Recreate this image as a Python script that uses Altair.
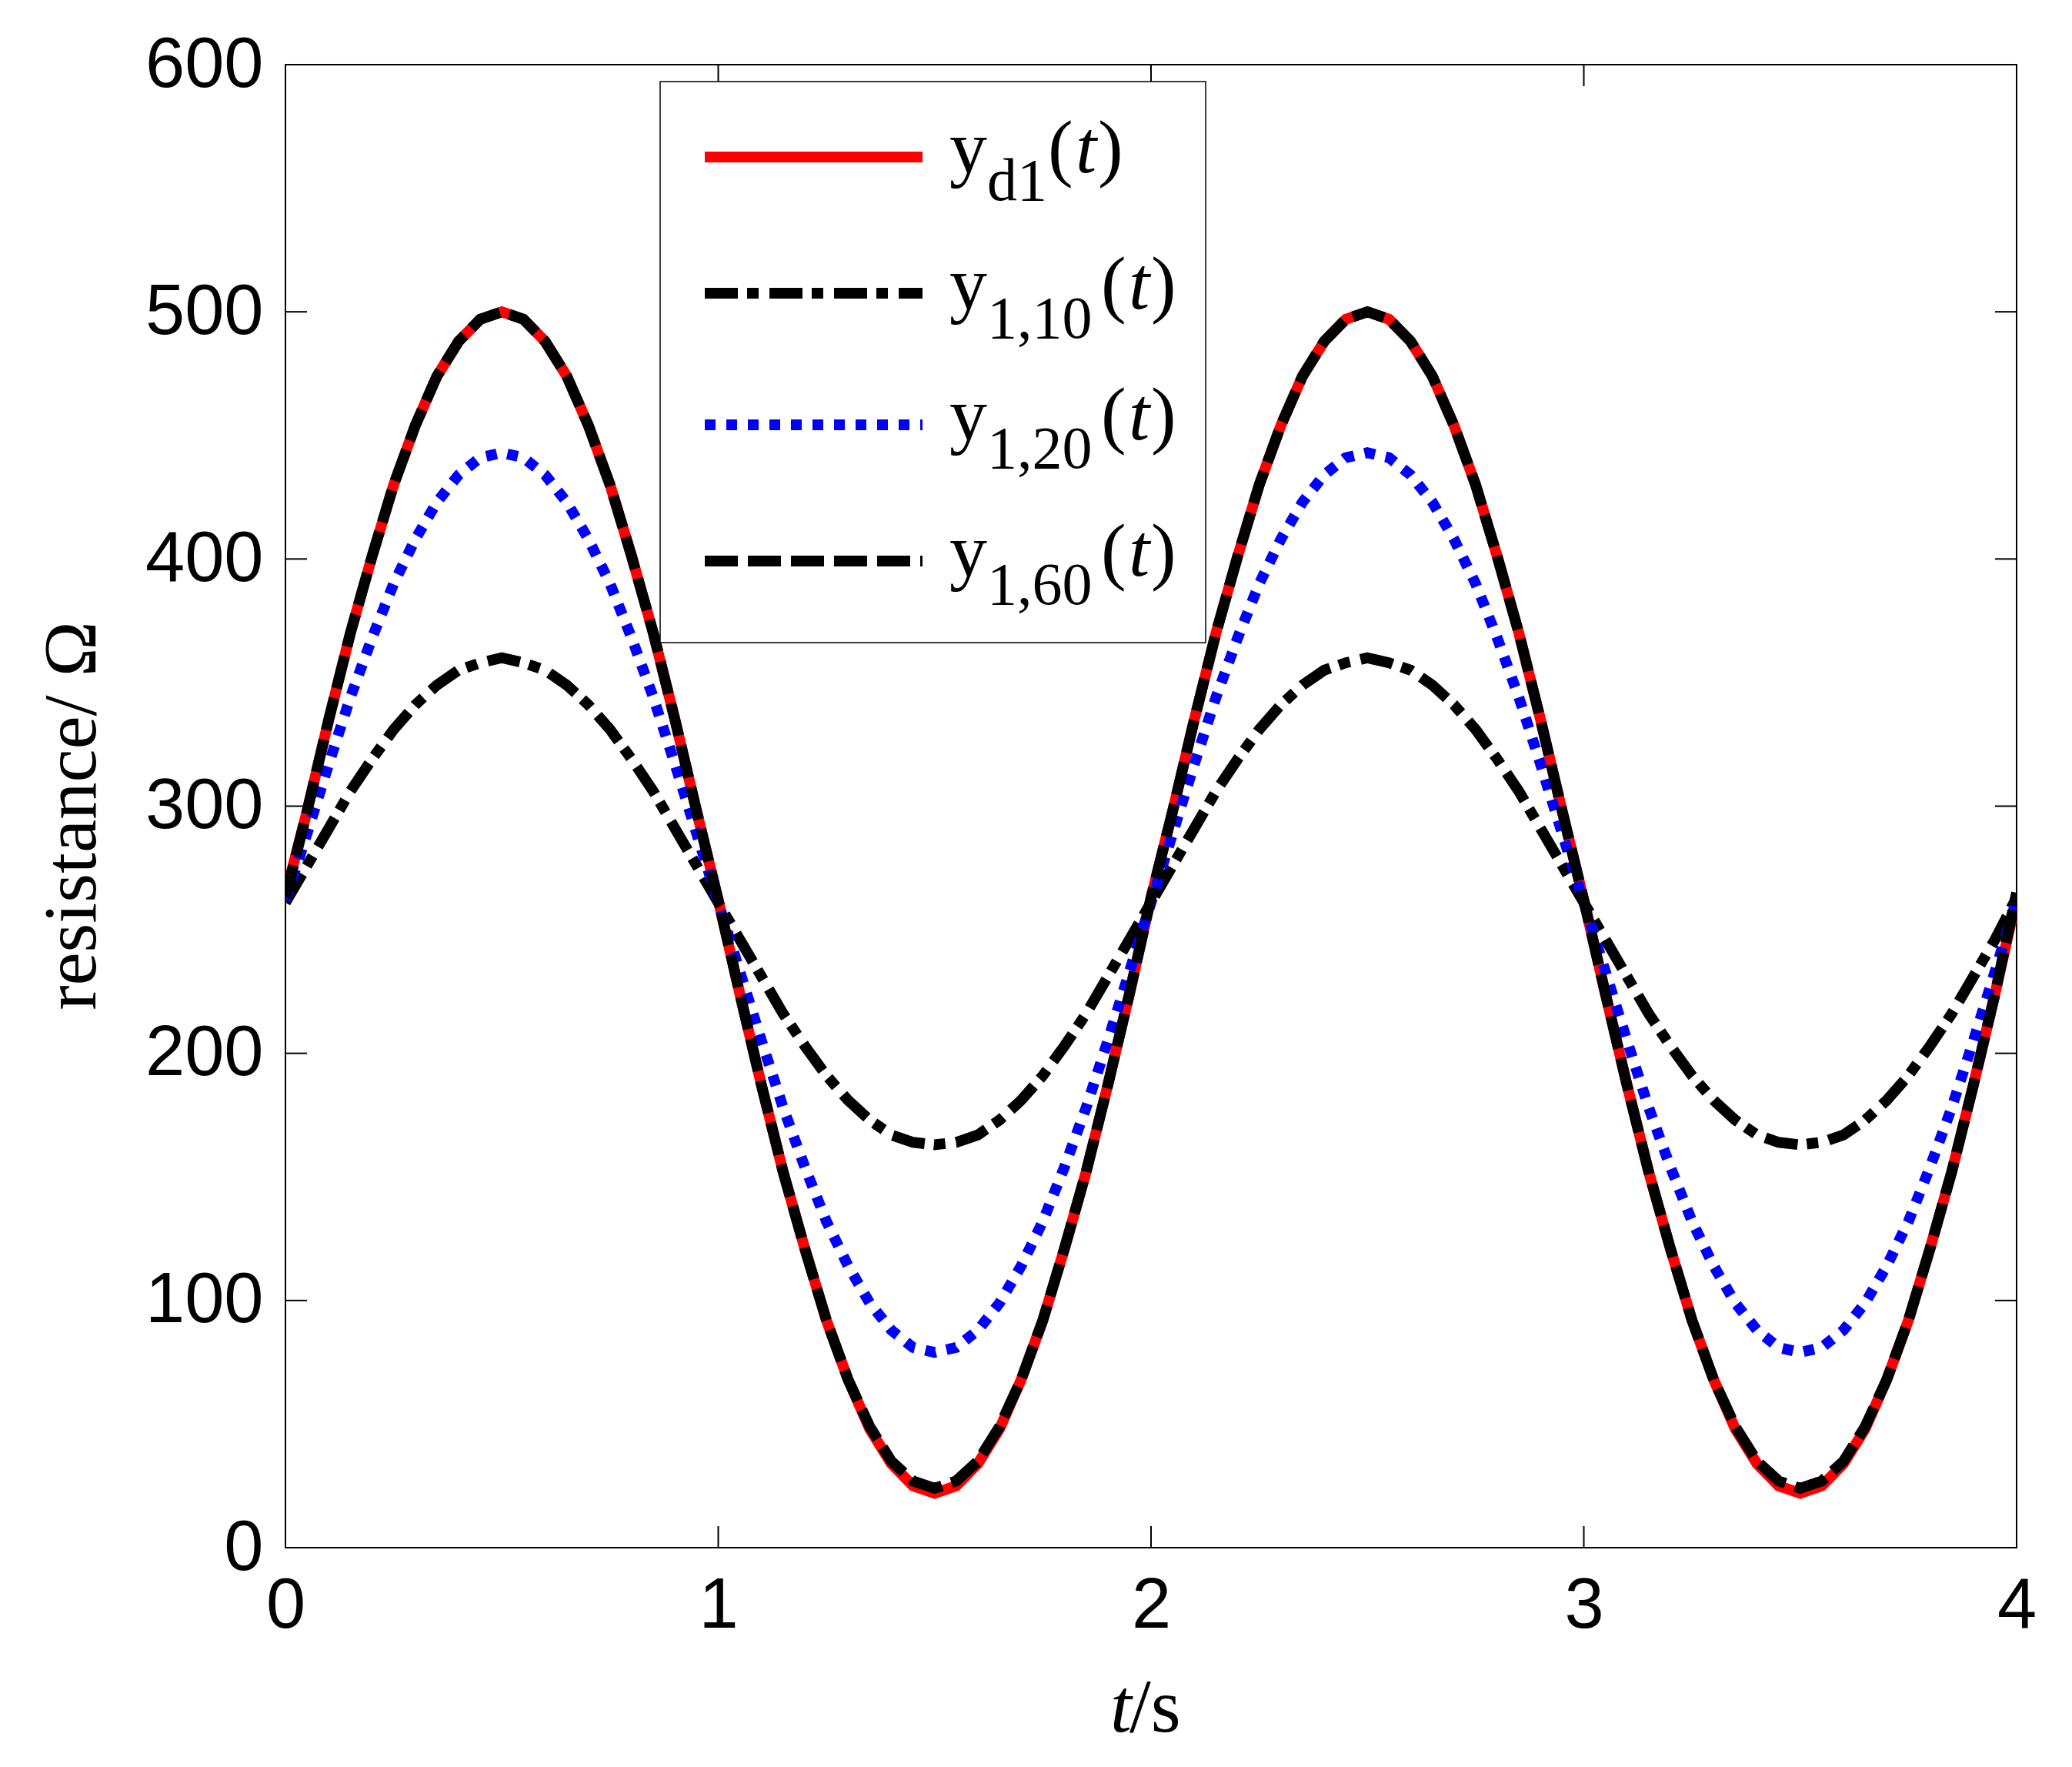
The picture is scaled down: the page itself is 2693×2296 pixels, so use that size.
import altair as alt
import pandas as pd

# ---------------- data ----------------
T = [0.00, 0.05, 0.10, 0.15, 0.20, 0.25, 0.30, 0.35, 0.40, 0.45,
     0.50, 0.55, 0.60, 0.65, 0.70, 0.75, 0.80, 0.85, 0.90, 0.95,
     1.00, 1.05, 1.10, 1.15, 1.20, 1.25, 1.30, 1.35, 1.40, 1.45,
     1.50, 1.55, 1.60, 1.65, 1.70, 1.75, 1.80, 1.85, 1.90, 1.95,
     2.00, 2.05, 2.10, 2.15, 2.20, 2.25, 2.30, 2.35, 2.40, 2.45,
     2.50, 2.55, 2.60, 2.65, 2.70, 2.75, 2.80, 2.85, 2.90, 2.95,
     3.00, 3.05, 3.10, 3.15, 3.20, 3.25, 3.30, 3.35, 3.40, 3.45,
     3.50, 3.55, 3.60, 3.65, 3.70, 3.75, 3.80, 3.85, 3.90, 3.95,
     4.00]

Y_D1 = [264, 298, 335, 370, 401, 430, 454, 474, 488, 497,
        500, 497, 488, 474, 454, 430, 401, 370, 335, 298,
        262, 224, 187, 152, 121, 92, 68, 48, 34, 25,
        22, 25, 34, 48, 68, 92, 121, 152, 187, 224,
        263, 298, 335, 370, 401, 430, 454, 474, 488, 497,
        500, 497, 488, 474, 454, 430, 401, 370, 335, 298,
        262, 224, 187, 152, 121, 92, 68, 48, 34, 25,
        22, 25, 34, 48, 68, 92, 121, 152, 187, 224,
        263]

Y_1_10 = [261, 276, 291, 306, 319, 331, 341, 349, 355, 358,
          360, 358, 355, 349, 341, 331, 319, 306, 291, 276,
          261, 246, 231, 216, 203, 191, 181, 173, 167, 164,
          163, 164, 167, 173, 181, 191, 203, 216, 231, 246,
          261, 276, 291, 306, 319, 331, 341, 349, 355, 358,
          360, 358, 355, 349, 341, 331, 319, 306, 291, 276,
          261, 246, 231, 216, 203, 191, 181, 173, 167, 164,
          163, 164, 167, 173, 181, 191, 203, 216, 231, 246,
          263]

Y_1_20 = [262, 289, 317, 344, 368, 390, 408, 423, 434, 441,
          443, 441, 434, 423, 408, 390, 368, 344, 317, 289,
          261, 233, 205, 178, 154, 132, 114, 99, 88, 81,
          79, 81, 88, 99, 114, 132, 154, 178, 205, 233,
          261, 289, 317, 344, 368, 390, 408, 423, 434, 441,
          443, 441, 434, 423, 408, 390, 368, 344, 317, 289,
          261, 233, 205, 178, 154, 132, 114, 99, 88, 81,
          79, 81, 88, 99, 114, 132, 154, 178, 205, 233,
          262]

Y_1_60 = [263, 298, 335, 370, 401, 430, 454, 474, 488, 497,
          500, 497, 488, 474, 454, 430, 401, 370, 335, 298,
          262, 224, 187, 152, 121, 92, 68, 49, 35, 27,
          24, 27, 35, 49, 68, 92, 121, 152, 187, 224,
          263, 298, 335, 370, 401, 430, 454, 474, 488, 497,
          500, 497, 488, 474, 454, 430, 401, 370, 335, 298,
          262, 224, 187, 152, 121, 92, 68, 49, 35, 27,
          24, 27, 35, 49, 68, 92, 121, 152, 187, 224,
          265]

X_TICKS = [0, 1, 2, 3, 4]
Y_TICKS = [0, 100, 200, 300, 400, 500, 600]
INNER_X = [1, 2, 3]
INNER_Y = [100, 200, 300, 400, 500]

LEGEND_SUBS = ["d1", "1,10", "1,20", "1,60"]

# ---------------- layout ----------------
W, H = 2250, 1927
TICK_LEN = 28
LW = 14

xs = alt.Scale(domain=[0, 4], nice=False, zero=False)
ys = alt.Scale(domain=[0, 600], nice=False, zero=False)

x_axis = alt.Axis(values=X_TICKS, title=None, grid=False, domain=False, ticks=False,
                  tickSize=0, labelFont="Liberation Sans", labelFontSize=92,
                  labelPadding=30, labelFlush=False, labelOverlap=False,
                  labelColor="black", format="d")
y_axis = alt.Axis(values=Y_TICKS, title=None, grid=False, domain=False, ticks=False,
                  tickSize=0, labelFont="Liberation Sans", labelFontSize=92,
                  labelPadding=29, labelOverlap=False, labelColor="black", format="d")

df = pd.DataFrame({"t": T, "yd": Y_D1, "y10": Y_1_10, "y20": Y_1_20, "y60": Y_1_60})
one = pd.DataFrame({"a": [0]})


def series(col, color, dash=None):
    kw = dict(color=color, strokeWidth=LW, strokeCap="butt", strokeJoin="miter", clip=True)
    if dash is not None:
        kw["strokeDash"] = dash
    return alt.Chart(df).mark_line(**kw).encode(
        x=alt.X("t:Q", scale=xs, axis=x_axis),
        y=alt.Y(col + ":Q", scale=ys, axis=y_axis),
    )


DASHDOT = [43, 12, 15, 14]
DOT = [14, 14]
DASH = [43, 13]

lines = [
    series("yd", "#ff0000"),
    series("y10", "#000000", DASHDOT),
    series("y20", "#0000ff", DOT),
    series("y60", "#000000", DASH),
]

xt = pd.DataFrame({"t": INNER_X})
yt = pd.DataFrame({"yd": INNER_Y})
tick_layers = [
    alt.Chart(xt).mark_rule(color="black", strokeWidth=2).encode(
        x=alt.X("t:Q", scale=xs, axis=x_axis), y=alt.value(0), y2=alt.value(TICK_LEN)),
    alt.Chart(xt).mark_rule(color="black", strokeWidth=2).encode(
        x=alt.X("t:Q", scale=xs, axis=x_axis), y=alt.value(H - TICK_LEN), y2=alt.value(H)),
    alt.Chart(yt).mark_rule(color="black", strokeWidth=2).encode(
        y=alt.Y("yd:Q", scale=ys, axis=y_axis), x=alt.value(0), x2=alt.value(TICK_LEN)),
    alt.Chart(yt).mark_rule(color="black", strokeWidth=2).encode(
        y=alt.Y("yd:Q", scale=ys, axis=y_axis), x=alt.value(W - TICK_LEN), x2=alt.value(W)),
]


def txt(s, x, y, size, font="Liberation Serif", style="normal", align="left",
        angle=0, baseline="alphabetic"):
    return alt.Chart(one).mark_text(
        text=s, font=font, fontSize=size, fontStyle=style, align=align,
        baseline=baseline, angle=angle, color="black"
    ).encode(x=alt.value(x), y=alt.value(y))


# legend box
legend_box = alt.Chart(one).mark_rect(fill="white", stroke="black", strokeWidth=1.5).encode(
    x=alt.value(487), x2=alt.value(1196), y=alt.value(22), y2=alt.value(751))

sample_specs = [("#ff0000", None, 120), ("#000000", DASHDOT, 297),
                ("#0000ff", DOT, 468), ("#000000", DASH, 645)]
samples = []
for color, dash, yy in sample_specs:
    kw = dict(color=color, strokeWidth=LW, strokeCap="butt")
    if dash is not None:
        kw["strokeDash"] = dash
    samples.append(alt.Chart(one).mark_rule(**kw).encode(
        x=alt.value(545), x2=alt.value(828), y=alt.value(yy)))

legend_texts = []
base_y = [140, 317, 487, 664]
sub_y = [176, 355, 524, 701]
paren_x = [991, 1060, 1060, 1060]
for i, sub in enumerate(LEGEND_SUBS):
    legend_texts.append(txt("y", 863, base_y[i], 98))
    legend_texts.append(txt(sub, 912, sub_y[i], 78))
    legend_texts.append(txt("(", paren_x[i], base_y[i], 98))
    legend_texts.append(txt("t", paren_x[i] + 36, base_y[i], 98, style="italic"))
    legend_texts.append(txt(")", paren_x[i] + 65, base_y[i], 98))

axis_titles = [
    txt("t", 1072, 2166, 100, style="italic"),
    txt("/s", 1097, 2166, 100),
    txt("resistance/ \u03a9", -247, 976, 97, align="center", angle=270),
]

chart = alt.layer(
    *tick_layers, *lines, legend_box, *samples, *legend_texts, *axis_titles
).properties(
    width=W, height=H,
    autosize=alt.AutoSizeParams(type="none"),
    padding={"left": 363, "top": 76, "right": 60, "bottom": 270},
).configure_view(stroke="black", strokeWidth=2)

chart.save("out.html", embed_options={"renderer": "svg", "actions": False})
